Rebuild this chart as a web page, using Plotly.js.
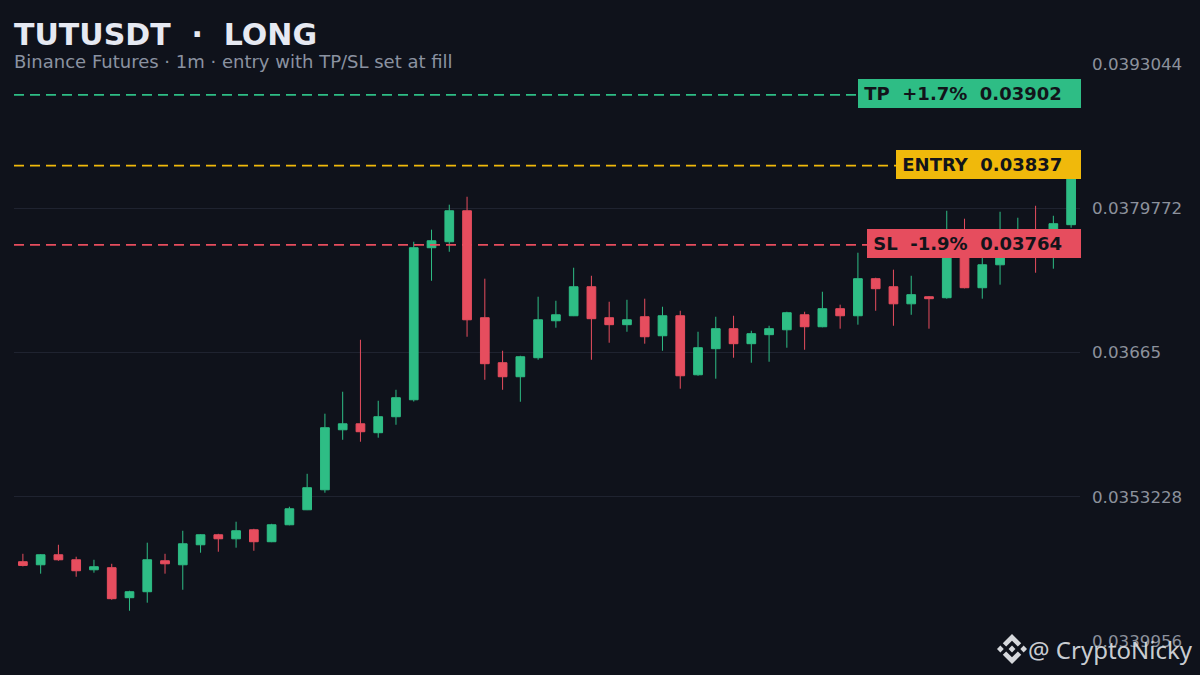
<!DOCTYPE html>
<html>
<head>
<meta charset="utf-8">
<script src="https://cdn.plot.ly/plotly-3.0.1.min.js"></script>
<style>
  html, body { margin: 0; padding: 0; background: #0f121b; }
  #chart { width: 1200px; height: 675px; }
</style>
</head>
<body>
<div id="chart"></div>
<script>
// ---- data ----
const candleIndex = Array.from({length: 60}, (_, i) => i);
const openPrices = [
  0.034725, 0.034697, 0.034789, 0.034743, 0.034651, 0.034670, 0.034394, 0.034449, 0.034734, 0.034697,
  0.034881, 0.034973, 0.034936, 0.035019, 0.034909, 0.035065, 0.035203, 0.035387, 0.035939, 0.035994,
  0.035912, 0.036059, 0.036215, 0.037614, 0.037669, 0.037954, 0.036970, 0.036556, 0.036427, 0.036602,
  0.036942, 0.036988, 0.037255, 0.036970, 0.036906, 0.036979, 0.036804, 0.036988, 0.036445, 0.036685,
  0.036869, 0.036731, 0.036814, 0.036859, 0.036997, 0.036887, 0.037053, 0.036988, 0.037329, 0.037255,
  0.037098, 0.037163, 0.037154, 0.037641, 0.037246, 0.037457, 0.037577, 0.037687, 0.037641, 0.037826
];
const highPrices = [
  0.034798, 0.034795, 0.034881, 0.034771, 0.034743, 0.034706, 0.034458, 0.034900, 0.034798, 0.035010,
  0.034978, 0.034982, 0.035093, 0.035028, 0.035074, 0.035231, 0.035534, 0.036087, 0.036289, 0.036767,
  0.036206, 0.036307, 0.037669, 0.037780, 0.038010, 0.038083, 0.037329, 0.036666, 0.036620, 0.037163,
  0.037126, 0.037430, 0.037356, 0.037117, 0.037135, 0.037145, 0.037071, 0.037034, 0.036841, 0.036979,
  0.036988, 0.036850, 0.036896, 0.037025, 0.037025, 0.037209, 0.037090, 0.037568, 0.037338, 0.037412,
  0.037356, 0.037170, 0.037954, 0.037881, 0.037521, 0.037945, 0.037890, 0.038000, 0.037908, 0.038370
];
const lowPrices = [
  0.034682, 0.034615, 0.034734, 0.034587, 0.034624, 0.034375, 0.034274, 0.034348, 0.034615, 0.034467,
  0.034808, 0.034817, 0.034854, 0.034826, 0.034905, 0.035060, 0.035200, 0.035360, 0.035847, 0.035829,
  0.035866, 0.035985, 0.036199, 0.037310, 0.037577, 0.036795, 0.036399, 0.036307, 0.036197, 0.036583,
  0.036878, 0.036985, 0.036583, 0.036740, 0.036841, 0.036731, 0.036666, 0.036317, 0.036436, 0.036409,
  0.036602, 0.036556, 0.036565, 0.036694, 0.036675, 0.036882, 0.036869, 0.036906, 0.037034, 0.036896,
  0.036997, 0.036869, 0.037145, 0.037240, 0.037145, 0.037274, 0.037540, 0.037384, 0.037421, 0.037798
];
const closePrices = [
  0.034691, 0.034789, 0.034743, 0.034642, 0.034679, 0.034385, 0.034449, 0.034743, 0.034706, 0.034890,
  0.034973, 0.034936, 0.035010, 0.034909, 0.035065, 0.035212, 0.035406, 0.035958, 0.035994, 0.035921,
  0.036059, 0.036234, 0.037614, 0.037678, 0.037954, 0.036951, 0.036547, 0.036427, 0.036611, 0.036951,
  0.036997, 0.037255, 0.036961, 0.036906, 0.036951, 0.036795, 0.036988, 0.036436, 0.036694, 0.036869,
  0.036731, 0.036823, 0.036869, 0.037016, 0.036887, 0.037053, 0.036988, 0.037329, 0.037237, 0.037098,
  0.037182, 0.037145, 0.037641, 0.037246, 0.037457, 0.037577, 0.037687, 0.037577, 0.037835, 0.038370
];
const tpPrice = 0.03902;
const entryPrice = 0.03837;
const slPrice = 0.03764;
const tpPct = "+1.7%";
const slPct = "-1.9%";
const yTickVals = [0.0339956, 0.0353228, 0.03665, 0.0379772, 0.0393044];
const yTickText = ["0.0339956", "0.0353228", "0.03665", "0.0379772", "0.0393044"];
const titleText = "TUTUSDT\u00a0\u00a0·\u00a0\u00a0LONG";
const subtitleText = "Binance Futures · 1m · entry with TP/SL set at fill";
const watermarkText = "@ CryptoNicky";

// ---- styles ----
const BG = "#0f121b";
const GREEN = "#2ebd85";
const RED = "#e64d5e";
const YELLOW = "#f0b90b";
const GRID = "#1f2330";
const NB = "\u00a0";

const trace = {
  type: "candlestick",
  x: candleIndex,
  open: openPrices,
  high: highPrices,
  low: lowPrices,
  close: closePrices,
  increasing: { line: { color: GREEN, width: 1 }, fillcolor: GREEN },
  decreasing: { line: { color: RED, width: 1 }, fillcolor: RED },
  whiskerwidth: 0,
  hoverinfo: "skip"
};

function levelLine(price, color) {
  return {
    type: "line", xref: "paper", yref: "y",
    x0: 0, x1: 1, y0: price, y1: price,
    line: { color: color, width: 1.7, dash: "10px,6px" },
    layer: "above"
  };
}
function levelLabel(text, price, color) {
  return {
    xref: "paper", yref: "y", x: 1.001, y: price,
    xanchor: "right", yanchor: "middle", yshift: 1.5,
    text: NB + text + NB + NB + NB,
    showarrow: false,
    bgcolor: color, borderpad: 0, borderwidth: 0,
    height: 29,
    font: { family: "DejaVu Sans", size: 18, color: "#12141a", weight: 700 }
  };
}

const logoSvg = '<svg xmlns="http://www.w3.org/2000/svg" viewBox="0 0 126.61 126.61"><g fill="#d6d8dc">' +
  '<path d="M38.73 53.2l24.59-24.58 24.6 24.6 14.3-14.31L63.32 0 24.42 38.9z"/>' +
  '<path d="M0 63.31l14.3-14.31 14.31 14.31-14.31 14.3z"/>' +
  '<path d="M38.73 73.41l24.59 24.59 24.6-24.6 14.31 14.29-38.9 38.91-38.91-38.88z"/>' +
  '<path d="M98.28 63.31l14.3-14.31 14.31 14.3-14.31 14.32z"/>' +
  '<path d="M77.83 63.3L63.32 48.78 48.81 63.3l14.51 14.51z"/></g></svg>';

const layout = {
  width: 1200, height: 675,
  paper_bgcolor: BG, plot_bgcolor: BG,
  margin: { l: 14, r: 120, t: 64, b: 34 },
  showlegend: false,
  boxgap: 0.3,
  font: { family: "DejaVu Sans", color: "#8c919c" },
  title: {
    text: titleText,
    xref: "container", yref: "container",
    x: 14 / 1200, xanchor: "left",
    y: 1 - 34 / 675, yanchor: "middle",
    font: { family: "DejaVu Sans", size: 30, color: "#e6e9f2", weight: 700 }
  },
  xaxis: {
    type: "linear",
    range: [-0.5, 59.5],
    showgrid: false, zeroline: false, showticklabels: false, showline: false,
    rangeslider: { visible: false },
    fixedrange: true
  },
  yaxis: {
    side: "right",
    range: [yTickVals[0], yTickVals[yTickVals.length - 1]],
    tickmode: "array",
    tickvals: yTickVals,
    ticktext: yTickText,
    showgrid: true, gridcolor: GRID, gridwidth: 1,
    zeroline: false, showline: false,
    ticks: "", ticklabelstandoff: 11,
    tickfont: { family: "DejaVu Sans", size: 16.7, color: "#8c919c" },
    fixedrange: true
  },
  shapes: [
    levelLine(tpPrice, GREEN),
    levelLine(entryPrice, YELLOW),
    levelLine(slPrice, RED)
  ],
  annotations: [
    {
      xref: "paper", yref: "paper", x: -0.002, y: (641 - 61) / 577,
      xanchor: "left", yanchor: "middle",
      text: subtitleText, showarrow: false,
      font: { family: "DejaVu Sans", size: 18, color: "#8b92a1" }
    },
    levelLabel("TP" + NB + NB + tpPct + NB + NB + tpPrice.toFixed(5), tpPrice, GREEN),
    levelLabel("ENTRY" + NB + NB + entryPrice.toFixed(5), entryPrice, YELLOW),
    levelLabel("SL" + NB + NB + slPct + NB + NB + slPrice.toFixed(5), slPrice, RED),
    {
      xref: "paper", yref: "paper", x: (1195 - 14) / 1066, y: (641 - 649) / 577,
      xanchor: "right", yanchor: "middle",
      text: watermarkText, showarrow: false,
      font: { family: "Noto Sans", size: 24, color: "rgba(222,224,228,0.92)" }
    }
  ],
  images: [
    {
      source: "data:image/svg+xml;charset=utf-8," + encodeURIComponent(logoSvg),
      xref: "paper", yref: "paper",
      x: (997 - 14) / 1066, y: (641 - 634) / 577,
      sizex: 30 / 1066, sizey: 30 / 577,
      xanchor: "left", yanchor: "top",
      sizing: "contain", layer: "above"
    }
  ]
};

Plotly.newPlot("chart", [trace], layout, { displayModeBar: false, staticPlot: true });
</script>
</body>
</html>
